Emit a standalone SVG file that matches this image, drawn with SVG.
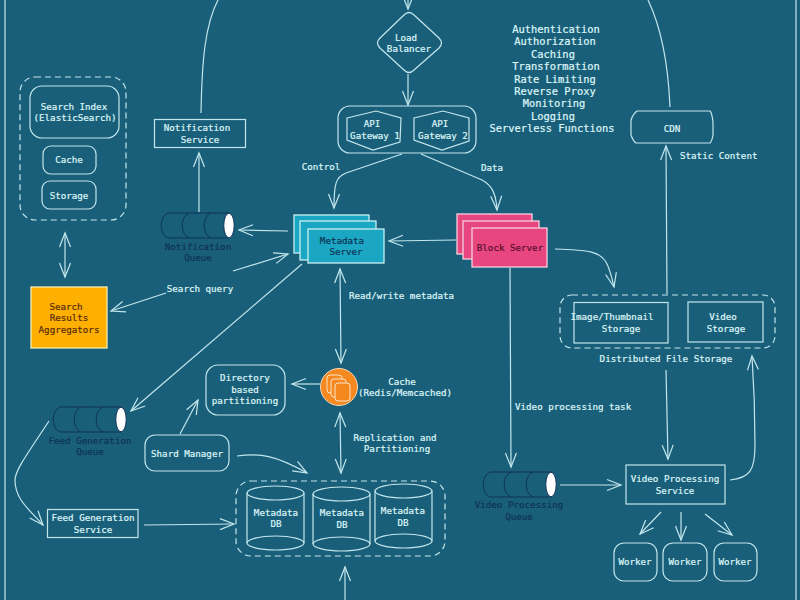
<svg xmlns="http://www.w3.org/2000/svg" width="800" height="600" viewBox="0 0 800 600">
<style>
text{font-family:"DejaVu Sans Mono","Liberation Mono",monospace;font-size:9.2px;fill:#dcf5f6;stroke:#dcf5f6;stroke-width:.22;text-anchor:middle}
.b{fill:none;stroke:#c2e6ec;stroke-width:1.2}
.d{fill:none;stroke:#c2e6ec;stroke-width:1.2;stroke-dasharray:6 4}
.c{fill:none;stroke:#c2e6ec;stroke-width:1.2;marker-end:url(#a)}
.cc{fill:none;stroke:#c2e6ec;stroke-width:1.2;marker-start:url(#a);marker-end:url(#a)}
.l{text-anchor:start}
.k{fill:#0e3355;stroke:#0e3355}
.q{fill:none;stroke:#0e3355;stroke-width:1}
.m{fill:#1ba7c4;stroke:#c8eef2;stroke-width:1.3}
.p{fill:#e8467f;stroke:#f7cfe0;stroke-width:1.3}
.t{font-size:10.4px}
.o{fill:#5a2c08;stroke:#5a2c08}
.r{fill:#57102f;stroke:#57102f}
</style>
<defs>
<marker id="a" markerUnits="userSpaceOnUse" markerWidth="18" markerHeight="18" refX="15" refY="9" orient="auto-start-reverse">
<path d="M1 3.500L15 9L1 14.500" fill="none" stroke="#c2e6ec" stroke-width="1.2"/>
</marker>
<g id="queue">
<path class="q" d="M7 0H68M7 25H68M7 0C-2 4-2 21 7 25M28 0C19 4 19 21 28 25M50 0C41 4 41 21 50 25"/>
<ellipse cx="68" cy="12.500" rx="5.200" ry="12.300" fill="#fff" stroke="#0e3355" stroke-width="1"/>
</g>
<g id="cyl">
<path class="b" d="M0 0V50M57 0V50"/>
<ellipse class="b" cx="28.500" cy="0" rx="28.500" ry="7"/>
<ellipse class="b" cx="28.500" cy="50" rx="28.500" ry="7"/>
</g>
</defs>
<rect width="800" height="600" fill="#1a5f7a"/>
<path d="M5 0V600M796 0V600" fill="none" stroke="#c2e6ec" stroke-width="1.2"/>

<g id="connectors">
<path class="b" d="M201 113C202 60 205 25 218 0"/>
<path class="c" d="M199 212V153"/>
<path class="c" d="M288 231L239 230"/>
<path class="cc" d="M65 233V277"/>
<path class="c" d="M166 293L111 311"/>
<path class="c" d="M233 271L288 254"/>
<path class="c" d="M302 264L131 411"/>
<path class="c" d="M456 240L389 241"/>
<path class="c" d="M510 268L511 467"/>
<path class="c" d="M560 485H621"/>
<path class="c" d="M666 370L668 459"/>
<path class="c" d="M730 480C750 478 755 470 755 445C755 420 755 400 752 356"/>
<path class="c" d="M661 512L640 534"/>
<path class="c" d="M681 512V540"/>
<path class="c" d="M705 514L732 535"/>
<path class="c" d="M555 249C590 250 600 252 606 262C610 269 612 278 614 287"/>
<path class="c" d="M667 294L666 146"/>
<path class="b" d="M670 107C668 60 660 25 648 0"/>
<path class="c" d="M408 0V9"/>
<path class="c" d="M408 74V105"/>
<path class="c" d="M402 154L346 173C336 177 334 183 334 208"/>
<path class="c" d="M421 154L482 180C491 185 496 192 497 210"/>
<path class="cc" d="M340 269L341 363"/>
<path class="c" d="M320 384H292"/>
<path class="c" d="M180 434L198 400"/>
<path class="c" d="M237 456C260 453 275 455 307 473"/>
<path class="c" d="M49 421C30 450 15 470 15 480C15 500 30 510 43 525"/>
<path class="c" d="M144 525L234 524"/>
<path class="c" d="M345 600V567"/>
<path class="cc" d="M340 413L341 473"/>
</g>

<g id="search-group">
<rect class="d" x="20" y="77" width="106" height="143" rx="15"/>
</g>
<g id="search-index">
<rect class="b" x="30" y="86" width="89" height="52" rx="12"/>
<text x="74" y="110">Search Index</text><text x="75" y="121">(ElasticSearch)</text>
</g>
<g id="search-cache"><rect class="b" x="43" y="146" width="53" height="28" rx="8"/><text x="69" y="163">Cache</text></g>
<g id="search-storage"><rect class="b" x="42" y="181" width="54" height="28" rx="8"/><text x="69" y="199">Storage</text></g>

<g id="notification-service">
<rect class="b" x="154.500" y="119.500" width="91" height="28"/>
<text x="197" y="131">Notification</text><text x="200" y="143">Service</text>
</g>
<g id="notification-queue">
<use href="#queue" x="161" y="213"/>
<text class="k" x="198" y="250">Notification</text><text class="k" x="198" y="261">Queue</text>
</g>
<g id="aggregators">
<rect x="31" y="287" width="76" height="61" fill="#fdb002" stroke="#f4eeb0" stroke-width="1.300"/>
<text class="o" x="66" y="310">Search</text><text class="o" x="69" y="321">Results</text><text class="o" x="69" y="333">Aggregators</text>
</g>
<text x="200" y="292">Search query</text>

<g id="metadata-server">
<rect class="m" x="294" y="215" width="75" height="38"/>
<rect class="m" x="300" y="221" width="76" height="39"/>
<rect class="m" x="308" y="229" width="76" height="34"/>
<text class="k" x="342" y="244">Metadata</text><text class="k" x="346" y="255">Server</text>
</g>
<g id="block-server">
<rect class="p" x="457" y="214" width="75" height="40"/>
<rect class="p" x="463" y="221" width="76" height="38"/>
<rect class="p" x="472" y="228" width="75" height="39"/>
<text class="r" x="510" y="251">Block Server</text>
</g>

<g id="load-balancer">
<path class="b" d="M404 15Q409 10 414 15L439 38Q444 43 439 48L414 70Q409 75 404 70L380 48Q375 43 380 38Z"/>
<text x="406" y="41">Load</text><text x="409" y="52">Balancer</text>
</g>
<g id="api-group"><rect class="b" x="338" y="106" width="138" height="47" rx="12"/></g>
<g id="gateway-1">
<path class="b" d="M347 118L376 111L401 118L400 142L373 150L347 140Z"/>
<text x="372" y="127">API</text><text x="375" y="139">Gateway 1</text>
</g>
<g id="gateway-2">
<path class="b" d="M414 118L443 111L469 118L469 141L442 150L414 140Z"/>
<text x="440" y="127">API</text><text x="443" y="139">Gateway 2</text>
</g>
<text x="321" y="170">Control</text>
<text x="492" y="171">Data</text>

<g id="gateway-features">
<text class="t" x="556" y="33">Authentication</text>
<text class="t" x="555" y="45">Authorization</text>
<text class="t" x="553" y="58">Caching</text>
<text class="t" x="556" y="70">Transformation</text>
<text class="t" x="555" y="83">Rate Limiting</text>
<text class="t" x="555" y="95">Reverse Proxy</text>
<text class="t" x="554" y="107">Monitoring</text>
<text class="t" x="553" y="120">Logging</text>
<text class="t" x="552" y="132">Serverless Functions</text>
</g>

<g id="cdn">
<path class="b" d="M637 111H710Q712 113 713 122V135Q712 141 710 143H636Q633 141 631 135V120Q633 114 637 111Z"/>
<text x="672" y="132">CDN</text>
</g>
<text class="l" x="680" y="159">Static Content</text>

<g id="file-storage"><rect class="d" x="560" y="295" width="215" height="53" rx="12"/><text x="666" y="362">Distributed File Storage</text></g>
<g id="image-storage"><rect class="b" x="574" y="302.500" width="94" height="40.500"/><text x="612" y="320">Image/Thumbnail</text><text x="621" y="332">Storage</text></g>
<g id="video-storage"><rect class="b" x="688" y="302" width="75" height="40"/><text x="723" y="320">Video</text><text x="726" y="332">Storage</text></g>
<text class="l" x="349" y="299">Read/write metadata</text>
<text class="l" x="515" y="410">Video processing task</text>

<g id="cache">
<circle cx="339" cy="387" r="18.500" fill="#f5881f" stroke="#f4d9b8" stroke-width="1"/>
<rect x="327" y="375" width="15" height="18" rx="3" fill="#f5881f" stroke="#fbe3c8"/>
<rect x="331" y="379" width="15" height="18" rx="3" fill="#f5881f" stroke="#fbe3c8"/>
<rect x="335" y="383" width="15" height="18" rx="3" fill="#f5881f" stroke="#fbe3c8"/>
<text x="402" y="385">Cache</text><text x="405" y="396">(Redis/Memcached)</text>
</g>
<g id="directory">
<rect class="b" x="206" y="365" width="79" height="50" rx="12"/>
<text x="245" y="381">Directory</text><text x="245" y="393">based</text><text x="245" y="404">partitioning</text>
</g>
<g id="shard-manager"><rect class="b" x="145" y="435" width="84" height="36" rx="10"/><text x="187" y="457">Shard Manager</text></g>
<g id="feed-queue">
<use href="#queue" x="53" y="407"/>
<text class="k" x="90" y="444">Feed Generation</text><text class="k" x="90" y="455">Queue</text>
</g>
<g id="feed-service">
<rect class="b" x="47.500" y="509.500" width="90.500" height="28"/>
<text x="93" y="521">Feed Generation</text><text x="93" y="533">Service</text>
</g>
<text x="395" y="441">Replication and</text>
<text x="397" y="452">Partitioning</text>

<g id="db-group"><rect class="d" x="236" y="481" width="209" height="75" rx="15"/></g>
<g id="db-1"><use href="#cyl" x="247" y="493"/><text x="276" y="516">Metadata</text><text x="276" y="527">DB</text></g>
<g id="db-2"><use href="#cyl" x="313" y="494"/><text x="342" y="516">Metadata</text><text x="342" y="528">DB</text></g>
<g id="db-3"><use href="#cyl" x="375" y="491"/><text x="403" y="514">Metadata</text><text x="403" y="526">DB</text></g>

<g id="video-queue">
<use href="#queue" x="483" y="472"/>
<text class="k" x="519" y="508">Video Processing</text><text class="k" x="519" y="520">Queue</text>
</g>
<g id="video-service">
<rect class="b" x="626" y="465" width="99" height="39"/>
<text x="675" y="482">Video Processing</text><text x="675" y="494">Service</text>
</g>
<g id="worker-1"><rect class="b" x="614" y="543" width="43" height="38" rx="10"/><text x="635" y="565">Worker</text></g>
<g id="worker-2"><rect class="b" x="663" y="543" width="44" height="38" rx="10"/><text x="685" y="565">Worker</text></g>
<g id="worker-3"><rect class="b" x="714" y="543" width="43" height="38" rx="10"/><text x="735" y="565">Worker</text></g>
</svg>
